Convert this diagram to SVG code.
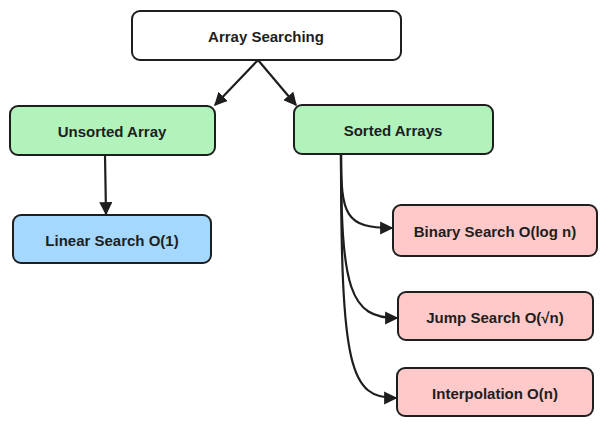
<svg xmlns="http://www.w3.org/2000/svg" width="608" height="427" viewBox="0 0 608 427">
<style>
.n rect{stroke:#1e1e1e;stroke-width:2}
.n text{font-family:"Liberation Sans",Arial,sans-serif;font-weight:bold;font-size:15px;fill:#1e1e1e;text-anchor:middle;dominant-baseline:central}
#edges path{fill:none;stroke:#1e1e1e;stroke-width:2.2;marker-end:url(#a)}
</style>
<defs><marker id="a" viewBox="0 0 10 10" refX="9" refY="5" markerWidth="6" markerHeight="6" orient="auto-start-reverse"><path d="M0,0L10,5L0,10z" fill="#1e1e1e"/></marker></defs>
<rect width="608" height="427" fill="#fff"/>
<g id="edges">
<path d="M258,60L215,105"/>
<path d="M258,60L296,105"/>
<path d="M105,155L106,214"/>
<path d="M341,154C341,215 345,228 392,228"/>
<path d="M341,154C341,290 350,318 397,318"/>
<path d="M341,154C341,370 350,398 396,398"/>
</g>
<g id="root" class="n"><rect x="132" y="11" width="269" height="49" rx="8" fill="#fff"/><text x="266" y="36">Array Searching</text></g>
<g id="unsorted" class="n"><rect x="10" y="106" width="205" height="49" rx="8" fill="#b2f2bb"/><text x="112" y="131">Unsorted Array</text></g>
<g id="sorted" class="n"><rect x="294" y="105" width="199" height="49" rx="8" fill="#b2f2bb"/><text x="393" y="130">Sorted Arrays</text></g>
<g id="linear" class="n"><rect x="13" y="215" width="198" height="48" rx="8" fill="#a5d8ff"/><text x="112" y="240">Linear Search O(1)</text></g>
<g id="binary" class="n"><rect x="393" y="205" width="204" height="51" rx="8" fill="#ffc9c9"/><text x="495" y="231">Binary Search O(log n)</text></g>
<g id="jump" class="n"><rect x="398" y="292" width="195" height="48" rx="8" fill="#ffc9c9"/><text x="495" y="317">Jump Search O(√n)</text></g>
<g id="interp" class="n"><rect x="397" y="368" width="196" height="48" rx="8" fill="#ffc9c9"/><text x="495" y="393">Interpolation O(n)</text></g>
</svg>
